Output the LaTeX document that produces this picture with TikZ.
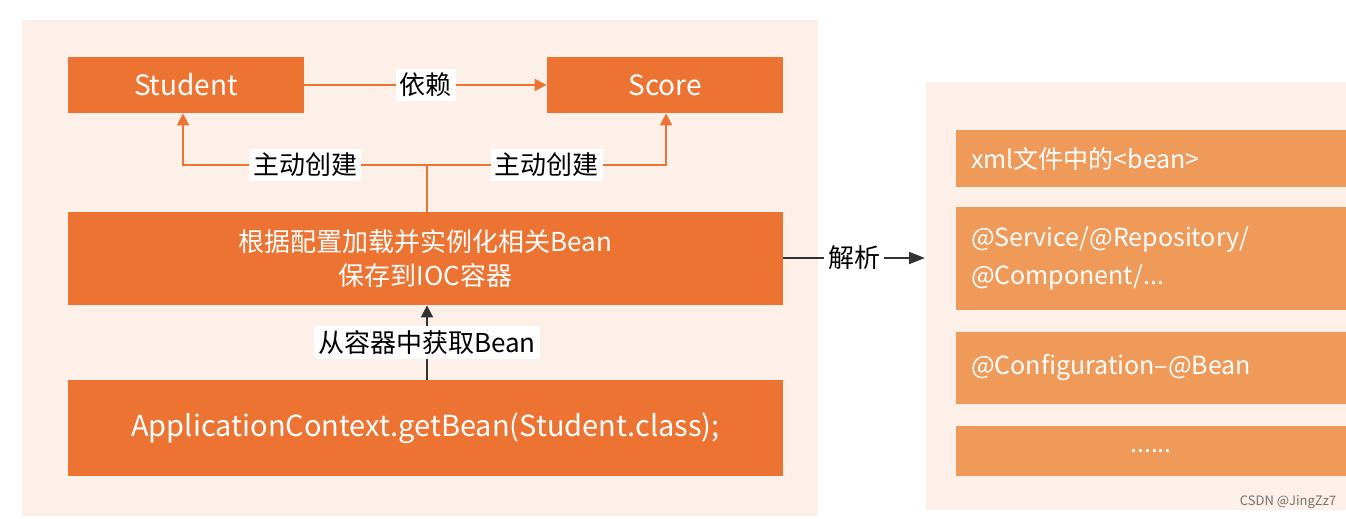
\documentclass[tikz,border=0pt]{standalone}
\usepackage{fontspec}
\setmainfont{Noto Sans CJK SC}
\usetikzlibrary{arrows.meta}
\definecolor{panel}{HTML}{FDF0E8}
\definecolor{deep}{HTML}{EC7331}
\definecolor{light}{HTML}{F09A5A}
\tikzset{
  box/.style={fill=deep,text=white,inner sep=0pt},
  rbox/.style={fill=light,text=white,inner sep=0pt},
  lab/.style={fill=white,text=black,inner sep=2pt,font=\fontsize{13}{15}\selectfont},
  link/.style={draw=deep,line width=1pt,-{Triangle[length=6pt,width=6pt]}},
}
\begin{document}
\begin{tikzpicture}[x=0.5pt,y=-0.5pt]
        \useasboundingbox (0,0) rectangle (1346,519);
        \fill[white] (0,0) rectangle (1346,519);
        \fill[panel] (22,20) rectangle (818,516);
        \fill[panel] (926,82) rectangle (1346,510);
        % left side boxes
        \node[box,minimum width=118pt,minimum height=28pt,font=\fontsize{14}{16}\selectfont] (stu) at (186,85) {Student};
        \node[box,minimum width=118pt,minimum height=28pt,font=\fontsize{14}{16}\selectfont] (sco) at (665,85) {Score};
        \node[box,minimum width=357.5pt,minimum height=46.5pt,align=center,font=\fontsize{13}{17}\selectfont] (ioc) at (425.5,258.5) {根据配置加载并实例化相关Bean\\保存到IOC容器};
        \node[box,minimum width=357.5pt,minimum height=48pt,font=\fontsize{14.5}{16}\selectfont] (ctx) at (425.5,428) {ApplicationContext.getBean(Student.class);};
        % right side boxes
        \node[rbox,minimum width=195pt,minimum height=28.5pt,text width=180pt,font=\fontsize{12.5}{15}\selectfont] (xml) at (1151,158.5) {xml文件中的<bean>};
        \node[rbox,minimum width=195pt,minimum height=51.5pt,text width=180pt,align=left,font=\fontsize{12.5}{19}\selectfont] (svc) at (1151,258.5) {@Service/@Repository/\\@Component/...};
        \node[rbox,minimum width=195pt,minimum height=36pt,text width=180pt,font=\fontsize{12.5}{15}\selectfont] (cfg) at (1151,368) {@Configuration--@Bean};
        \node[rbox,minimum width=195pt,minimum height=25pt,font=\fontsize{12.5}{15}\selectfont] (etc) at (1151,451) {......};
        % connectors
        \coordinate (fork) at (427,165);
        \draw[link] (stu.east) -- (sco.west) node[lab,midway] {依赖};
        \draw[draw=deep,line width=1pt] (ioc.north-|fork) -- (fork);
        \draw[link] (fork) -- (183,165) node[lab,pos=0.5] {主动创建} -- (stu.south-|183,0);
        \draw[link] (fork) -- (666,165) node[lab,pos=0.5] {主动创建} -- (sco.south-|666,0);
        \draw[draw=black!80,line width=1pt,-{Triangle[length=6pt,width=6pt]}] (ctx.north-|fork) -- (ioc.south-|fork) node[lab,midway] {从容器中获取Bean};
        \coordinate (parse) at (925,258);
        \draw[draw=black!80,line width=1pt,-{Triangle[length=8pt,width=6pt]}] (ioc.east|-parse) -- (parse) node[lab,midway] {解析};
        \node[text=black!55,font=\fontsize{6.5}{8}\selectfont] (mark) at (1288,502) {CSDN @JingZz7};
\end{tikzpicture}
\end{document}
